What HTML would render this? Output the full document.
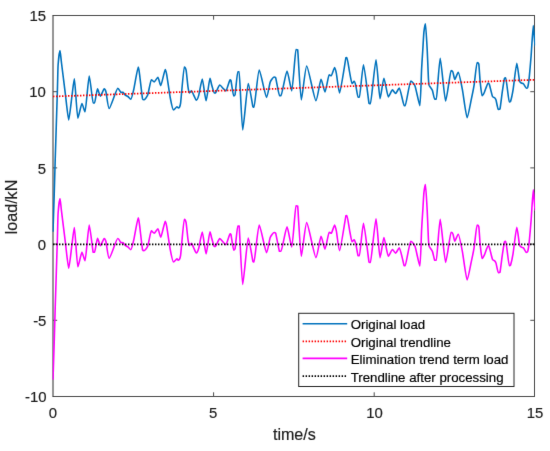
<!DOCTYPE html>
<html><head><meta charset="utf-8"><title>load plot</title>
<style>html,body{margin:0;padding:0;background:#fff}svg{display:block}text{font-family:"Liberation Sans",Arial,Helvetica,sans-serif;fill:#1c1c1c;stroke:#1c1c1c;stroke-width:0.18px}</style></head><body>
<svg width="550" height="451" viewBox="0 0 550 451">
<rect width="550" height="451" fill="#fff"/>
<filter id="soft" x="0" y="0" width="550" height="451" filterUnits="userSpaceOnUse" color-interpolation-filters="sRGB"><feConvolveMatrix order="3" kernelMatrix="0.00524 0.06192 0.00524 0.06192 0.73137 0.06192 0.00524 0.06192 0.00524" divisor="1" edgeMode="duplicate" preserveAlpha="true"/></filter>
<g filter="url(#soft)">
<rect width="550" height="451" fill="#fff"/>
<g stroke="#4a4a4a" stroke-width="1" fill="none">
<path d="M52.5 15.5H535.0M52.5 396.5H535.0M534.5 15.5V396.5"/>
<path d="M53.0 15.5V396.5" stroke="#2a2a2a" stroke-width="1"/>
<path d="M213.6 396.5v-4.2M213.6 15.5v4.2"/>
<path d="M374.2 396.5v-4.2M374.2 15.5v4.2"/>
<path d="M53.0 320.3h4.2M534.5 320.3h-4.2"/>
<path d="M53.0 244.1h4.2M534.5 244.1h-4.2"/>
<path d="M53.0 167.9h4.2M534.5 167.9h-4.2"/>
<path d="M53.0 91.7h4.2M534.5 91.7h-4.2"/>
</g>
<text x="52.8" y="418" font-size="14.9" text-anchor="middle">0</text>
<text x="213.1" y="418" font-size="14.9" text-anchor="middle">5</text>
<text x="374.5" y="418" font-size="14.9" text-anchor="middle">10</text>
<text x="535.0" y="418" font-size="14.9" text-anchor="middle">15</text>
<text x="46.6" y="402" font-size="14.9" text-anchor="end">-10</text>
<text x="46.4" y="326" font-size="14.9" text-anchor="end">-5</text>
<text x="46.05" y="250" font-size="14.9" text-anchor="end">0</text>
<text x="46.05" y="174" font-size="14.9" text-anchor="end">5</text>
<text x="45.9" y="97" font-size="14.9" text-anchor="end">10</text>
<text x="46.0" y="21" font-size="14.9" text-anchor="end">15</text>
<text x="294.4" y="440" font-size="16.1" text-anchor="middle">time/s</text>
<text transform="translate(16.8,207) rotate(-90)" font-size="16.1" text-anchor="middle">load/kN</text>
<clipPath id="c"><rect x="52.5" y="15.0" width="482.7" height="382.0"/></clipPath>
<g clip-path="url(#c)" fill="none" stroke-linejoin="round">
<path d="M53.0 231.7C53.22 231.70 54.76 174.17 55.2 160.0C55.64 145.83 57.11 99.50 57.4 90.0C57.69 80.50 57.84 68.95 58.1 65.0C58.36 61.05 59.66 50.50 60.0 50.5C60.34 50.50 60.96 58.62 61.5 63.0C62.04 67.38 64.68 88.61 65.4 94.3C66.12 99.99 68.05 119.90 68.7 119.9C69.35 119.90 71.33 100.60 71.9 96.5C72.47 92.40 73.81 78.90 74.4 78.9C74.99 78.90 77.05 118.10 77.8 118.1C78.55 118.10 81.17 103.50 81.9 103.5C82.63 103.50 84.37 111.80 85.1 111.8C85.83 111.80 88.40 76.00 89.2 76.0C90.00 76.00 92.56 103.00 93.1 103.0C93.64 103.00 94.16 103.00 94.6 103.0C95.04 103.00 96.92 88.90 97.5 88.9C98.08 88.90 99.74 96.20 100.4 96.2C101.06 96.20 103.54 88.90 104.1 88.9C104.66 88.90 105.49 90.04 106.0 92.0C106.51 93.96 108.03 108.50 109.2 108.5C110.37 108.50 116.53 88.40 117.7 88.4C118.87 88.40 120.36 92.40 120.9 92.4C121.44 92.40 122.69 92.40 123.1 92.4C123.51 92.40 124.52 94.39 125.0 94.8C125.48 95.21 127.32 96.06 127.9 96.5C128.48 96.94 130.21 99.20 130.8 99.2C131.39 99.20 133.06 92.42 133.8 89.2C134.54 85.98 137.62 67.00 138.2 67.0C138.78 67.00 139.17 71.43 139.6 74.6C140.03 77.77 142.06 96.18 142.5 98.7C142.94 99.80 143.48 99.80 144.0 99.8C144.52 99.80 146.97 97.11 147.7 95.1C148.43 93.09 150.65 79.70 151.3 79.7C151.95 79.70 153.54 81.90 154.2 81.9C154.86 81.90 157.24 77.30 157.9 77.3C158.56 77.30 160.07 85.60 160.8 85.6C161.53 85.60 164.61 69.50 165.2 69.5C165.79 69.50 166.19 71.75 166.7 74.6C167.21 77.45 169.62 94.46 170.3 98.0C170.98 101.54 172.84 110.00 173.5 110.0C174.16 110.00 176.41 106.80 176.9 106.8C177.39 106.80 178.03 108.00 178.4 108.0C178.77 108.00 180.02 107.20 180.6 103.1C181.18 99.00 183.65 67.00 184.2 67.0C184.75 67.00 185.73 68.27 186.1 70.2C186.47 72.13 187.58 84.03 187.9 86.3C188.22 88.57 188.94 92.90 189.3 92.9C189.66 92.90 191.06 90.70 191.5 90.7C191.94 90.70 193.22 94.15 193.7 95.1C194.18 96.05 195.79 100.20 196.3 100.2C196.81 100.20 198.20 97.21 198.8 95.1C199.40 92.99 201.57 79.10 202.3 79.1C203.03 79.10 205.34 100.80 206.1 100.8C206.86 100.80 209.34 78.40 209.9 78.4C210.46 78.40 211.27 83.54 211.7 85.0C212.13 86.46 213.83 93.00 214.2 93.0C214.57 93.00 214.85 93.00 215.4 93.0C215.95 93.00 218.90 85.00 219.7 85.0C220.50 85.00 222.77 88.11 223.4 88.7C224.03 89.29 225.34 90.90 226.0 90.9C226.66 90.90 229.50 79.90 230.0 79.9C230.50 79.90 230.64 79.90 231.0 80.6C231.36 82.21 233.19 96.00 233.6 96.0C234.01 96.00 234.69 96.00 235.1 94.5C235.51 92.08 237.29 71.80 237.7 71.8C238.11 71.80 238.70 71.80 239.2 71.8C239.70 71.80 241.80 130.00 242.7 130.0C243.60 130.00 247.18 83.50 248.2 83.5C249.22 83.50 252.31 104.23 252.9 106.6C253.49 107.20 253.50 107.20 254.1 107.2C254.73 107.20 257.96 70.10 259.2 70.1C260.44 70.10 265.40 97.40 266.5 97.4C267.60 97.40 269.44 84.14 270.2 82.1C270.96 80.06 273.55 77.00 274.1 77.0C274.65 77.00 275.17 77.00 275.7 77.7C276.23 79.56 278.86 95.60 279.4 95.6C279.94 95.60 280.34 95.60 281.1 95.6C281.86 95.60 285.93 71.00 287.0 71.0C288.07 71.00 290.91 90.90 291.8 90.9C292.69 90.90 295.31 49.50 295.9 49.5C296.49 49.50 297.16 49.50 297.7 49.9C298.24 54.94 300.40 99.90 301.3 99.9C302.20 99.90 305.24 66.00 306.7 66.0C308.16 66.00 314.47 100.70 315.9 100.7C317.33 100.70 320.09 79.20 321.0 79.2C321.91 79.20 324.19 91.90 325.0 91.9C325.81 91.90 328.47 74.80 329.1 74.8C329.73 74.80 330.75 75.80 331.3 75.8C331.85 75.80 334.09 67.50 334.6 67.5C335.11 67.50 335.90 71.06 336.4 73.6C336.90 76.14 338.65 92.90 339.6 92.9C340.55 92.90 345.16 61.34 345.9 57.8C346.45 57.50 346.63 57.50 347.0 57.5C347.37 57.50 349.10 69.59 349.6 72.2C350.10 74.81 351.55 83.60 352.0 83.6C352.45 83.60 353.72 81.40 354.1 81.4C354.48 81.40 355.41 83.92 355.8 85.5C356.19 87.08 357.63 97.20 358.0 97.2C358.37 97.20 358.95 97.20 359.5 97.2C360.05 97.20 362.55 64.70 363.5 64.7C364.45 64.70 368.30 99.40 369.0 103.3C369.70 103.70 369.80 103.70 370.5 103.7C371.20 103.70 375.05 59.90 376.0 59.9C376.95 59.90 379.21 98.60 380.0 98.6C380.79 98.60 383.07 78.20 383.9 78.2C384.73 78.20 387.45 96.90 388.3 96.9C389.15 96.90 391.67 89.90 392.4 89.9C393.13 89.90 394.90 93.50 395.6 93.5C396.30 93.50 398.55 88.10 399.4 88.1C400.25 88.10 403.51 105.60 404.1 105.6C404.69 105.60 404.70 105.60 405.3 105.6C405.96 105.60 409.72 81.10 410.7 81.1C411.68 81.10 414.18 83.75 415.1 86.2C416.02 88.65 419.25 105.60 419.9 105.6C420.55 105.60 421.31 74.58 421.6 69.0C421.89 63.42 422.57 53.48 422.8 49.8C423.03 46.12 423.63 34.80 423.9 32.2C424.17 29.60 425.17 23.80 425.5 23.8C425.83 23.80 426.91 44.38 427.2 49.8C427.49 55.22 428.21 74.46 428.4 78.0C428.59 81.54 428.75 83.96 429.1 85.2C429.50 86.44 431.85 89.01 432.4 90.4C432.95 91.79 434.20 99.10 434.6 99.1C435.00 99.10 435.84 99.10 436.4 99.1C436.96 99.10 439.28 58.20 440.2 58.2C441.12 58.20 444.52 101.00 445.6 101.0C446.68 101.00 450.27 70.60 451.0 70.6C451.73 70.60 452.52 71.12 452.9 72.0C453.28 72.88 454.26 79.40 454.8 79.4C455.34 79.40 457.54 72.40 458.3 72.4C459.06 72.40 461.52 85.07 462.4 89.6C463.28 94.13 466.22 117.70 467.1 117.7C467.98 117.70 470.50 103.15 471.2 99.9C471.90 96.65 473.52 88.93 474.1 85.2C474.68 81.47 476.53 62.60 477.0 62.6C477.47 62.60 478.48 62.60 478.8 64.0C479.12 65.97 479.87 79.12 480.2 82.3C480.53 85.48 481.69 95.80 482.1 95.8C482.51 95.80 483.71 93.78 484.3 92.5C484.89 91.22 487.49 83.00 488.0 83.0C488.51 83.00 488.96 83.18 489.4 84.5C489.84 85.82 491.88 94.88 492.4 96.2C492.92 97.52 494.24 97.33 494.6 97.7C494.96 98.07 495.64 98.73 496.0 99.9C496.36 101.07 497.80 109.40 498.2 109.4C498.60 109.40 499.60 109.40 500.0 108.9C500.40 107.21 501.76 95.52 502.2 92.5C502.64 89.48 504.04 80.16 504.4 78.7C504.76 77.90 505.32 77.90 505.8 77.9C506.28 77.90 508.72 102.00 509.2 102.0C509.68 102.00 510.21 102.00 510.6 101.3C510.99 100.06 512.48 93.40 513.1 89.6C513.72 85.80 516.14 63.30 516.8 63.3C517.46 63.30 519.04 79.55 519.7 81.6C520.36 83.65 522.74 83.14 523.4 83.8C524.06 84.46 525.87 88.20 526.3 88.2C526.73 88.20 527.41 88.20 527.7 87.4C527.99 86.37 528.86 81.04 529.2 77.9C529.54 74.76 530.69 61.24 531.1 56.0C531.51 50.76 532.91 25.50 533.3 25.5C533.69 25.50 534.83 46.00 535.0 46.0" stroke="#0072bd" stroke-width="1.6"/>
<line x1="53.0" y1="96.5" x2="534.5" y2="79.8" stroke="#ff0000" stroke-width="1.75" stroke-dasharray="1.45 1.55"/>
<path d="M53.0 379.6C53.22 379.55 54.76 322.08 55.2 307.9C55.64 293.77 57.11 247.49 57.4 238.0C57.69 228.51 57.84 216.97 58.1 213.0C58.36 209.09 59.66 198.59 60.0 198.6C60.34 198.59 60.96 206.74 61.5 211.1C62.04 215.54 64.68 236.86 65.4 242.6C66.12 248.29 68.05 268.29 68.7 268.3C69.35 268.29 71.33 249.08 71.9 245.0C72.47 240.92 73.81 227.49 74.4 227.5C74.99 227.49 77.05 266.81 77.8 266.8C78.55 266.81 81.17 252.35 81.9 252.3C82.63 252.35 84.37 260.76 85.1 260.8C85.83 260.76 88.40 225.10 89.2 225.1C90.00 225.10 92.56 249.52 93.1 252.2C93.64 252.29 94.16 252.29 94.6 252.3C95.04 252.29 96.92 238.29 97.5 238.3C98.08 238.29 99.74 245.69 100.4 245.7C101.06 245.69 103.54 238.52 104.1 238.5C104.66 238.52 105.49 239.70 106.0 241.7C106.51 243.66 108.03 258.29 109.2 258.3C110.37 258.29 116.53 238.48 117.7 238.5C118.87 238.48 120.36 242.18 120.9 242.6C121.44 242.67 122.69 242.60 123.1 242.7C123.51 242.93 124.52 244.71 125.0 245.1C125.48 245.56 127.32 246.48 127.9 246.9C128.48 247.40 130.21 249.74 130.8 249.7C131.39 249.74 133.06 243.04 133.8 239.8C134.54 236.65 137.62 217.79 138.2 217.8C138.78 217.79 139.17 222.26 139.6 225.4C140.03 228.63 142.06 247.11 142.5 249.6C142.94 250.79 143.48 250.79 144.0 250.8C144.52 250.79 146.97 248.21 147.7 246.2C148.43 244.24 150.65 230.95 151.3 230.9C151.95 230.95 153.54 233.25 154.2 233.2C154.86 233.25 157.24 228.77 157.9 228.8C158.56 228.77 160.07 237.17 160.8 237.2C161.53 237.17 164.61 221.23 165.2 221.2C165.79 221.23 166.19 223.51 166.7 226.4C167.21 229.25 169.62 246.34 170.3 249.9C170.98 253.47 172.84 262.01 173.5 262.0C174.16 262.01 176.41 258.93 176.9 258.9C177.39 258.93 178.03 260.18 178.4 260.2C178.77 260.18 180.02 259.44 180.6 255.4C181.18 251.28 183.65 219.38 184.2 219.4C184.75 219.38 185.73 220.70 186.1 222.6C186.47 224.59 187.58 236.53 187.9 238.8C188.22 241.09 188.94 245.46 189.3 245.5C189.66 245.46 191.06 243.33 191.5 243.3C191.94 243.33 193.22 246.84 193.7 247.8C194.18 248.78 195.79 253.00 196.3 253.0C196.81 253.00 198.20 250.08 198.8 248.0C199.40 245.90 201.57 232.11 202.3 232.1C203.03 232.11 205.34 253.94 206.1 253.9C206.86 253.94 209.34 231.67 209.9 231.7C210.46 231.67 211.27 236.86 211.7 238.3C212.13 239.81 213.83 245.61 214.2 246.4C214.57 246.46 214.85 246.46 215.4 246.5C215.95 246.46 218.90 238.61 219.7 238.6C220.50 238.61 222.77 241.82 223.4 242.4C224.03 243.05 225.34 244.73 226.0 244.7C226.66 244.73 229.50 233.86 230.0 233.9C230.50 233.86 230.64 233.86 231.0 234.6C231.36 236.22 233.19 250.09 233.6 250.1C234.01 250.09 234.69 250.09 235.1 248.6C235.51 246.23 237.29 226.03 237.7 226.0C238.11 226.03 238.70 226.03 239.2 226.1C239.70 231.92 241.80 284.40 242.7 284.4C243.60 284.40 247.18 238.09 248.2 238.1C249.22 238.09 252.31 258.96 252.9 261.4C253.49 262.00 253.50 262.00 254.1 262.0C254.73 262.00 257.96 225.07 259.2 225.1C260.44 225.07 265.40 252.63 266.5 252.6C267.60 252.63 269.44 239.47 270.2 237.5C270.96 235.44 273.55 232.49 274.1 232.5C274.65 232.49 275.17 232.49 275.7 233.2C276.23 235.12 278.86 249.46 279.4 251.3C279.94 251.33 280.34 251.33 281.1 251.3C281.86 251.33 285.93 226.93 287.0 226.9C288.07 226.93 290.91 247.00 291.8 247.0C292.69 247.00 295.31 205.74 295.9 205.7C296.49 205.74 297.16 205.74 297.7 206.2C298.24 211.26 300.40 256.33 301.3 256.3C302.20 256.33 305.24 222.61 306.7 222.6C308.16 222.61 314.47 257.63 315.9 257.6C317.33 257.63 320.09 236.31 321.0 236.3C321.91 236.31 324.19 249.15 325.0 249.1C325.81 249.15 328.47 232.19 329.1 232.2C329.73 232.19 330.75 233.26 331.3 233.3C331.85 233.26 334.09 225.08 334.6 225.1C335.11 225.08 335.90 228.68 336.4 231.2C336.90 233.80 338.65 250.65 339.6 250.7C340.55 250.65 345.16 219.28 345.9 215.8C346.45 215.51 346.63 215.51 347.0 215.5C347.37 215.51 349.10 227.67 349.6 230.3C350.10 232.92 351.55 241.78 352.0 241.8C352.45 241.78 353.72 239.65 354.1 239.7C354.48 239.65 355.41 242.22 355.8 243.8C356.19 245.40 357.63 254.40 358.0 255.6C358.37 255.64 358.95 255.64 359.5 255.6C360.05 255.64 362.55 223.28 363.5 223.3C364.45 223.28 368.30 258.14 369.0 262.1C369.70 262.52 369.80 262.52 370.5 262.5C371.20 262.52 375.05 218.91 376.0 218.9C376.95 218.91 379.21 257.75 380.0 257.7C380.79 257.75 383.07 237.48 383.9 237.5C384.73 237.48 387.45 256.33 388.3 256.3C389.15 256.33 391.67 249.47 392.4 249.5C393.13 249.47 394.90 253.18 395.6 253.2C396.30 253.18 398.55 247.92 399.4 247.9C400.25 247.92 403.51 263.81 404.1 265.6C404.69 265.62 404.70 265.62 405.3 265.6C405.96 265.62 409.72 241.31 410.7 241.3C411.68 241.31 414.18 244.08 415.1 246.6C416.02 249.04 419.25 266.12 419.9 266.1C420.55 266.12 421.31 235.15 421.6 229.6C421.89 224.01 422.57 214.10 422.8 210.4C423.03 206.75 423.63 195.45 423.9 192.9C424.17 190.27 425.17 184.52 425.5 184.5C425.83 184.52 426.91 205.15 427.2 210.6C427.49 216.01 428.21 235.27 428.4 238.8C428.59 242.36 428.75 244.79 429.1 246.0C429.50 247.30 431.85 249.95 432.4 251.4C432.95 252.76 434.20 259.25 434.6 260.1C435.00 260.19 435.84 260.19 436.4 260.2C436.96 260.19 439.28 219.43 440.2 219.4C441.12 219.43 444.52 262.41 445.6 262.4C446.68 262.41 450.27 232.20 451.0 232.2C451.73 232.20 452.52 232.77 452.9 233.7C453.28 234.56 454.26 241.13 454.8 241.1C455.34 241.13 457.54 234.25 458.3 234.3C459.06 234.25 461.52 247.03 462.4 251.6C463.28 256.15 466.22 279.85 467.1 279.9C467.98 279.85 470.50 265.42 471.2 262.2C471.90 258.97 473.52 251.31 474.1 247.6C474.68 243.89 476.53 225.10 477.0 225.1C477.47 225.10 478.48 225.10 478.8 226.6C479.12 228.54 479.87 241.72 480.2 244.9C480.53 248.10 481.69 258.47 482.1 258.5C482.51 258.47 483.71 256.51 484.3 255.2C484.89 253.99 487.49 245.88 488.0 245.9C488.51 245.88 488.96 246.09 489.4 247.4C489.84 248.76 491.88 257.89 492.4 259.2C492.92 260.57 494.24 260.42 494.6 260.8C494.96 261.19 495.64 261.87 496.0 263.1C496.36 264.24 497.80 272.63 498.2 272.6C498.60 272.63 499.60 272.63 500.0 272.2C500.40 270.51 501.76 258.87 502.2 255.9C502.64 252.86 504.04 243.59 504.4 242.1C504.76 241.39 505.32 241.39 505.8 241.4C506.28 241.39 508.72 265.61 509.2 265.6C509.68 265.61 510.21 265.61 510.6 265.0C510.99 263.73 512.48 257.12 513.1 253.3C513.72 249.56 516.14 227.17 516.8 227.2C517.46 227.17 519.04 243.50 519.7 245.6C520.36 247.64 522.74 247.22 523.4 247.9C524.06 248.58 525.87 252.40 526.3 252.4C526.73 252.40 527.41 252.40 527.7 251.6C527.99 250.63 528.86 245.33 529.2 242.2C529.54 239.07 530.69 225.59 531.1 220.4C531.51 215.14 532.91 189.94 533.3 189.9C533.69 189.94 534.83 210.50 535.0 210.5" stroke="#ff00ff" stroke-width="1.6"/>
<line x1="53.0" y1="244.3" x2="534.5" y2="244.3" stroke="#000" stroke-width="1.75" stroke-dasharray="1.45 1.55"/>
</g>
<rect x="298.7" y="313.3" width="215.3" height="73.19999999999999" fill="#fff" stroke="#262626" stroke-width="1"/>
<line x1="302.6" y1="323.8" x2="347.2" y2="323.8" stroke="#0072bd" stroke-width="1.6"/>
<text x="350.7" y="329" font-size="13.27" style="fill:#000;stroke:#000">Original load</text>
<line x1="302.6" y1="341.3" x2="347.2" y2="341.3" stroke="#ff0000" stroke-width="1.75" stroke-dasharray="1.45 1.55"/>
<text x="350.7" y="347" font-size="13.27" style="fill:#000;stroke:#000">Original trendline</text>
<line x1="302.6" y1="358.4" x2="347.2" y2="358.4" stroke="#ff00ff" stroke-width="1.6"/>
<text x="350.7" y="364" font-size="13.27" style="fill:#000;stroke:#000">Elimination trend term load</text>
<line x1="302.6" y1="376.2" x2="347.2" y2="376.2" stroke="#000" stroke-width="1.75" stroke-dasharray="1.45 1.55"/>
<text x="350.7" y="382" font-size="13.27" style="fill:#000;stroke:#000">Trendline after processing</text>
</g>
</svg></body></html>
